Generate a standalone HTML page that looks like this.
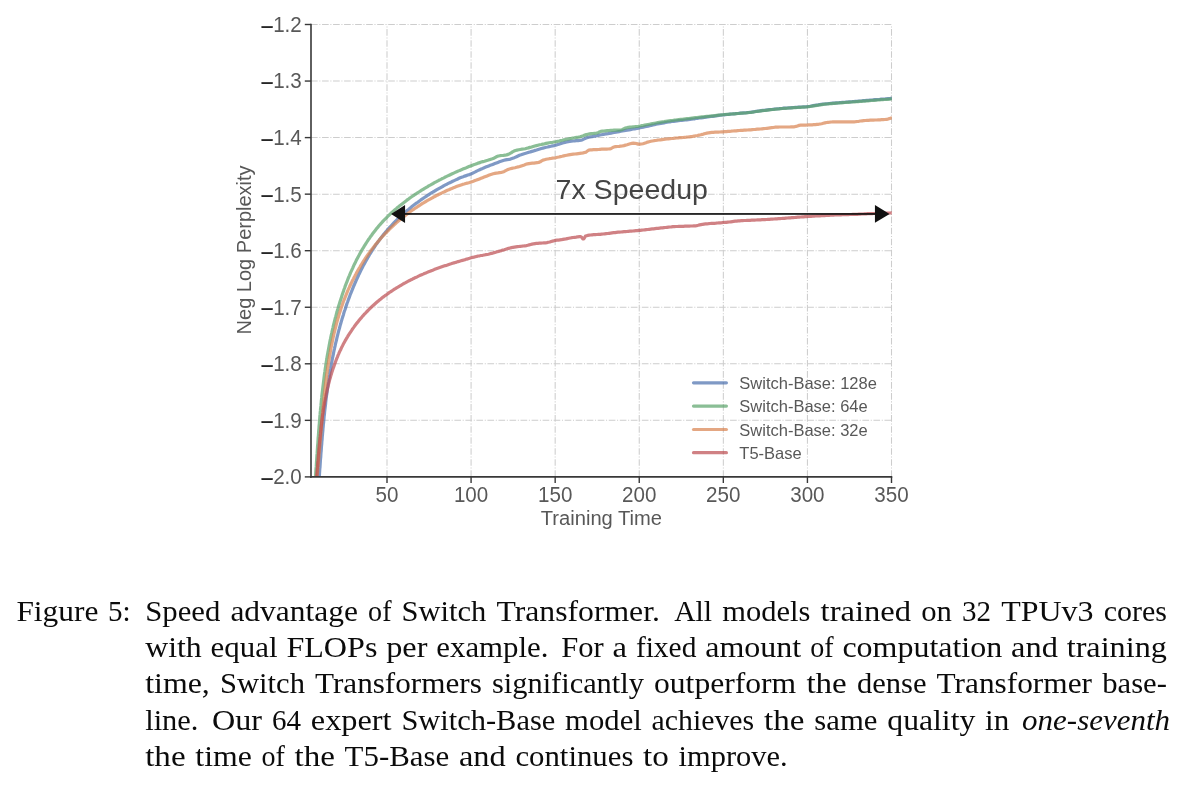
<!DOCTYPE html>
<html lang="en"><head><meta charset="utf-8"><title>Figure 5: Speed advantage of Switch Transformer</title>
<style>html,body{margin:0;padding:0;background:#fff}svg{display:block}text{font-family:"Liberation Sans",sans-serif}.cap text{font-family:"Liberation Serif",serif;font-size:29px;fill:#0b0b0b}.cap .it{font-style:italic}</style></head><body>
<svg width="1184" height="786" viewBox="0 0 1184 786">
<rect width="1184" height="786" fill="#fff"/>
<defs><clipPath id="ax"><rect x="311.0" y="24.5" width="580.8" height="452.4"/></clipPath></defs>
<g stroke="#cdcdcd" stroke-width="1.04" stroke-dasharray="6.658 1.665 1.04 1.665" fill="none"><line x1="311.0" y1="24.50" x2="891.5" y2="24.50"/><line x1="311.0" y1="81.05" x2="891.5" y2="81.05"/><line x1="311.0" y1="137.60" x2="891.5" y2="137.60"/><line x1="311.0" y1="194.15" x2="891.5" y2="194.15"/><line x1="311.0" y1="250.70" x2="891.5" y2="250.70"/><line x1="311.0" y1="307.25" x2="891.5" y2="307.25"/><line x1="311.0" y1="363.80" x2="891.5" y2="363.80"/><line x1="311.0" y1="420.35" x2="891.5" y2="420.35"/><line x1="387.00" y1="476.9" x2="387.00" y2="24.5"/><line x1="471.08" y1="476.9" x2="471.08" y2="24.5"/><line x1="555.17" y1="476.9" x2="555.17" y2="24.5"/><line x1="639.25" y1="476.9" x2="639.25" y2="24.5"/><line x1="723.33" y1="476.9" x2="723.33" y2="24.5"/><line x1="807.42" y1="476.9" x2="807.42" y2="24.5"/><line x1="891.50" y1="476.9" x2="891.50" y2="24.5"/></g>
<g clip-path="url(#ax)" fill="none" stroke-width="3.2" stroke-linejoin="round" stroke-opacity="0.7">
<polyline stroke="#496DAD" points="318.0,494.9 318.1,493.3 318.2,491.7 318.3,490.0 318.5,488.4 318.6,486.8 318.7,485.1 318.8,483.5 318.9,481.9 319.0,480.3 319.2,478.6 319.3,477.0 319.4,475.4 319.5,473.7 319.6,472.1 319.7,470.5 319.8,468.9 320.0,467.2 320.1,465.6 320.2,464.0 320.3,462.4 320.4,460.7 320.5,459.1 320.7,457.5 320.8,455.8 320.9,454.2 321.0,452.6 321.2,451.0 321.3,449.3 321.4,447.7 321.5,446.1 321.7,444.5 321.8,442.8 321.9,441.2 322.1,439.6 322.2,438.0 322.3,436.3 322.5,434.7 322.6,433.1 322.8,431.4 322.9,429.8 323.0,428.2 323.2,426.6 323.3,424.9 323.5,423.3 323.7,421.7 323.8,420.1 324.0,418.5 324.1,416.8 324.3,415.2 324.5,413.6 324.6,412.0 324.8,410.3 325.0,408.7 325.2,407.1 325.4,405.5 325.6,403.9 325.7,402.2 325.9,400.6 326.1,399.0 326.3,397.4 326.5,395.8 326.8,394.1 327.0,392.5 327.2,390.9 327.4,389.3 327.6,387.7 327.9,386.0 328.1,384.4 328.3,382.8 328.6,381.2 328.8,379.6 329.1,378.0 329.3,376.4 329.6,374.8 329.8,373.1 330.1,371.5 330.4,369.9 330.7,368.3 330.9,366.7 331.2,365.1 331.5,363.5 331.8,361.9 332.1,360.3 332.4,358.7 332.7,357.1 333.1,355.5 333.4,353.9 333.7,352.3 334.0,350.7 334.4,349.1 334.7,347.5 335.1,345.9 335.4,344.3 335.8,342.7 336.2,341.1 336.6,339.5 336.9,338.0 337.3,336.4 337.7,334.8 338.1,333.2 338.5,331.6 338.9,330.1 339.4,328.5 339.8,326.9 340.2,325.3 340.7,323.8 341.1,322.2 341.6,320.6 342.0,319.1 342.5,317.5 343.0,315.9 343.5,314.4 343.9,312.8 344.4,311.3 345.0,309.7 345.5,308.2 346.0,306.6 346.5,305.1 347.0,303.5 347.6,302.0 348.1,300.5 348.7,298.9 349.3,297.4 349.8,295.9 350.4,294.3 351.0,292.8 351.6,291.3 352.2,289.8 352.8,288.3 353.4,286.8 354.1,285.3 354.7,283.8 355.4,282.3 356.0,280.8 356.7,279.3 357.4,277.8 358.1,276.3 358.7,274.8 359.5,273.4 360.2,271.9 360.9,270.4 361.6,269.0 362.4,267.5 363.1,266.1 363.9,264.6 364.7,263.2 365.5,261.8 366.3,260.3 367.1,258.9 367.9,257.5 368.7,256.1 369.5,254.7 370.4,253.3 371.3,251.9 372.1,250.6 373.0,249.2 373.9,247.8 374.8,246.5 375.7,245.1 376.7,243.8 377.6,242.4 378.6,241.1 379.5,239.8 380.5,238.5 381.5,237.2 382.5,235.9 383.5,234.6 384.6,233.4 385.6,232.1 386.6,230.9 387.7,229.6 388.8,228.4 389.9,227.2 391.0,226.0 392.1,224.8 393.2,223.6 394.3,222.4 395.5,221.3 396.6,220.1 397.8,219.0 399.0,217.8 400.2,216.7 401.4,215.6 402.6,214.5 403.8,213.4 405.0,212.4 406.3,211.3 407.5,210.2 408.8,209.2 410.0,208.2 411.3,207.1 412.6,206.1 413.9,205.1 415.2,204.1 416.5,203.1 417.8,202.2 419.1,201.2 420.4,200.3 421.7,199.3 423.1,198.4 424.4,197.5 425.8,196.6 427.2,195.7 428.5,194.8 429.9,193.9 431.3,193.0 432.7,192.2 434.1,191.3 435.5,190.5 436.9,189.7 438.3,188.9 439.7,188.1 441.1,187.3 442.6,186.5 444.0,185.7 445.4,184.9 446.9,184.2 448.3,183.4 449.8,182.7 451.3,182.0 452.7,181.3 454.2,180.6 455.7,179.9 457.2,179.2 458.6,178.5 460.1,177.8 461.6,177.2 463.2,176.7 464.7,176.1 466.3,175.6 467.8,175.1 469.4,174.6 470.9,174.0 472.4,173.3 473.8,172.6 475.3,171.9 476.7,171.1 478.2,170.4 479.7,169.7 481.2,169.0 482.7,168.4 484.2,167.7 485.7,167.1 487.2,166.5 488.7,165.9 490.2,165.3 491.8,164.8 493.3,164.2 494.8,163.6 496.4,163.0 497.9,162.4 499.4,161.8 501.0,161.3 502.5,160.8 504.1,160.3 505.6,159.9 507.2,159.6 508.9,159.4 510.5,159.1 512.0,158.6 513.5,158.1 515.0,157.4 516.5,156.7 518.0,156.0 519.5,155.3 521.0,154.8 522.6,154.2 524.1,153.7 525.7,153.3 527.3,152.8 528.8,152.3 530.4,151.9 532.0,151.4 533.5,150.9 535.1,150.4 536.6,150.0 538.2,149.5 539.8,149.0 541.3,148.5 542.9,148.1 544.5,147.7 546.1,147.3 547.6,147.0 549.2,146.6 550.8,146.3 552.4,145.9 554.0,145.6 555.6,145.2 557.2,144.7 558.8,144.3 560.3,143.8 561.9,143.3 563.5,142.8 565.0,142.4 566.6,142.0 568.2,141.6 569.8,141.4 571.4,141.2 573.1,141.0 574.7,140.9 576.3,140.7 578.0,140.6 579.6,140.4 581.2,140.1 582.7,139.7 584.2,138.9 585.6,138.2 587.2,137.6 588.7,137.2 590.3,136.9 591.9,136.7 593.6,136.4 595.2,136.1 596.8,135.8 598.4,135.4 599.9,135.0 601.5,134.7 603.1,134.4 604.8,134.1 606.4,133.8 608.0,133.6 609.6,133.3 611.2,133.1 612.8,132.8 614.4,132.5 616.0,132.2 617.6,131.9 619.2,131.6 620.8,131.3 622.4,131.0 624.0,130.7 625.7,130.4 627.3,130.2 628.9,129.9 630.5,129.6 632.1,129.3 633.7,129.0 635.3,128.8 636.9,128.5 638.5,128.2 640.1,127.8 641.7,127.5 643.3,127.2 644.9,126.8 646.5,126.4 648.1,126.1 649.7,125.7 651.3,125.4 652.9,125.0 654.5,124.7 656.0,124.3 657.6,124.0 659.2,123.7 660.8,123.4 662.4,123.1 664.1,122.8 665.7,122.5 667.3,122.2 668.9,122.0 670.5,121.8 672.1,121.5 673.7,121.3 675.4,121.1 677.0,120.9 678.6,120.7 680.2,120.5 681.8,120.3 683.5,120.2 685.1,120.0 686.7,119.8 688.3,119.6 689.9,119.4 691.6,119.2 693.2,119.0 694.8,118.8 696.4,118.5 698.0,118.3 699.6,118.0 701.3,117.8 702.9,117.6 704.5,117.4 706.1,117.2 707.7,116.9 709.3,116.7 711.0,116.5 712.6,116.3 714.2,116.1 715.8,115.9 717.4,115.6 719.0,115.4 720.7,115.2 722.3,115.0 723.9,114.8 725.5,114.6 727.1,114.5 728.8,114.3 730.4,114.1 732.0,114.0 733.6,113.8 735.3,113.7 736.9,113.5 738.5,113.4 740.1,113.2 741.8,113.1 743.4,112.9 745.0,112.8 746.6,112.7 748.3,112.5 749.9,112.3 751.5,112.1 753.1,111.8 754.7,111.6 756.3,111.3 758.0,111.1 759.6,110.9 761.2,110.6 762.8,110.4 764.4,110.3 766.0,110.1 767.7,109.9 769.3,109.7 770.9,109.5 772.5,109.4 774.2,109.2 775.8,109.0 777.4,108.8 779.0,108.7 780.7,108.5 782.3,108.4 783.9,108.2 785.5,108.1 787.2,108.0 788.8,107.9 790.4,107.8 792.0,107.6 793.7,107.5 795.3,107.4 796.9,107.3 798.6,107.2 800.2,107.1 801.8,107.0 803.4,106.9 805.1,106.8 806.7,106.7 808.3,106.5 809.9,106.3 811.5,106.0 813.2,105.7 814.8,105.4 816.4,105.1 818.0,104.9 819.6,104.6 821.2,104.4 822.8,104.2 824.4,104.0 826.1,103.8 827.7,103.7 829.3,103.5 830.9,103.3 832.6,103.2 834.2,103.1 835.8,102.9 837.4,102.8 839.1,102.7 840.7,102.5 842.3,102.4 844.0,102.3 845.6,102.2 847.2,102.0 848.8,101.9 850.5,101.8 852.1,101.7 853.7,101.5 855.3,101.4 857.0,101.3 858.6,101.1 860.2,101.0 861.8,100.9 863.5,100.7 865.1,100.6 866.7,100.4 868.3,100.3 870.0,100.1 871.6,100.0 873.2,99.9 874.9,99.7 876.5,99.6 878.1,99.5 879.7,99.4 881.4,99.2 883.0,99.1 884.6,99.0 886.2,98.8 887.9,98.7 889.5,98.6 891.1,98.4 892.7,98.3 894.4,98.2 896.0,98.1"/>
<polyline stroke="#58A368" points="314.1,494.9 314.2,493.3 314.4,491.6 314.5,490.0 314.6,488.3 314.7,486.7 314.9,485.0 315.0,483.4 315.1,481.7 315.2,480.1 315.3,478.4 315.5,476.8 315.6,475.1 315.7,473.5 315.8,471.8 315.9,470.2 316.0,468.6 316.2,466.9 316.3,465.3 316.4,463.6 316.5,462.0 316.6,460.3 316.7,458.7 316.8,457.0 316.9,455.4 317.1,453.7 317.2,452.1 317.3,450.4 317.4,448.8 317.5,447.1 317.6,445.5 317.8,443.8 317.9,442.2 318.0,440.5 318.1,438.9 318.2,437.2 318.4,435.6 318.5,433.9 318.6,432.3 318.7,430.6 318.9,429.0 319.0,427.3 319.1,425.7 319.3,424.0 319.4,422.4 319.5,420.8 319.7,419.1 319.8,417.5 319.9,415.8 320.1,414.2 320.2,412.5 320.4,410.9 320.5,409.2 320.7,407.6 320.9,405.9 321.0,404.3 321.2,402.6 321.3,401.0 321.5,399.4 321.7,397.7 321.8,396.1 322.0,394.4 322.2,392.8 322.4,391.1 322.6,389.5 322.8,387.9 323.0,386.2 323.2,384.6 323.4,382.9 323.6,381.3 323.8,379.7 324.0,378.0 324.2,376.4 324.4,374.7 324.6,373.1 324.9,371.5 325.1,369.8 325.3,368.2 325.6,366.6 325.8,364.9 326.1,363.3 326.3,361.7 326.6,360.0 326.9,358.4 327.1,356.8 327.4,355.1 327.7,353.5 328.0,351.9 328.3,350.3 328.6,348.6 328.9,347.0 329.2,345.4 329.5,343.8 329.8,342.1 330.1,340.5 330.5,338.9 330.8,337.3 331.1,335.7 331.5,334.0 331.9,332.4 332.2,330.8 332.6,329.2 333.0,327.6 333.3,326.0 333.7,324.4 334.1,322.8 334.5,321.2 334.9,319.6 335.3,318.0 335.8,316.4 336.2,314.8 336.6,313.2 337.1,311.6 337.5,310.0 338.0,308.4 338.4,306.8 338.9,305.2 339.4,303.7 339.9,302.1 340.4,300.5 340.9,298.9 341.4,297.4 341.9,295.8 342.4,294.2 342.9,292.7 343.5,291.1 344.0,289.5 344.6,288.0 345.1,286.4 345.7,284.9 346.3,283.3 346.9,281.8 347.5,280.2 348.1,278.7 348.7,277.2 349.4,275.6 350.0,274.1 350.6,272.6 351.3,271.1 352.0,269.6 352.7,268.1 353.3,266.6 354.0,265.1 354.8,263.6 355.5,262.1 356.2,260.6 357.0,259.1 357.7,257.7 358.5,256.2 359.3,254.8 360.1,253.3 360.9,251.9 361.7,250.4 362.5,249.0 363.4,247.6 364.2,246.2 365.1,244.8 366.0,243.4 366.9,242.0 367.8,240.6 368.7,239.2 369.7,237.9 370.6,236.5 371.6,235.2 372.6,233.8 373.6,232.5 374.6,231.2 375.6,229.9 376.6,228.6 377.7,227.4 378.7,226.1 379.8,224.8 380.9,223.6 382.0,222.4 383.1,221.1 384.3,219.9 385.4,218.8 386.6,217.6 387.7,216.4 388.9,215.3 390.1,214.1 391.3,213.0 392.5,211.9 393.8,210.8 395.0,209.7 396.3,208.6 397.5,207.5 398.8,206.5 400.1,205.4 401.4,204.4 402.7,203.4 404.0,202.4 405.3,201.4 406.6,200.4 408.0,199.4 409.3,198.4 410.6,197.5 412.0,196.5 413.4,195.6 414.7,194.7 416.1,193.8 417.5,192.9 418.9,192.0 420.3,191.1 421.7,190.2 423.1,189.3 424.5,188.5 425.9,187.6 427.3,186.8 428.7,185.9 430.2,185.1 431.6,184.3 433.1,183.5 434.5,182.7 436.0,181.9 437.4,181.1 438.9,180.3 440.3,179.6 441.8,178.8 443.3,178.1 444.8,177.3 446.2,176.6 447.7,175.9 449.2,175.2 450.7,174.5 452.2,173.8 453.7,173.1 455.2,172.4 456.7,171.7 458.2,171.1 459.8,170.4 461.3,169.8 462.8,169.1 464.3,168.5 465.9,167.9 467.4,167.2 468.9,166.6 470.5,166.0 472.0,165.4 473.6,164.8 475.1,164.3 476.7,163.7 478.2,163.1 479.8,162.6 481.3,162.1 482.9,161.6 484.5,161.2 486.1,160.7 487.7,160.3 489.3,159.8 490.9,159.3 492.4,158.8 494.0,158.2 495.4,157.3 496.9,156.5 498.4,156.0 500.0,155.7 501.7,155.5 503.4,155.4 505.0,155.2 506.6,154.9 508.2,154.4 509.6,153.7 511.1,152.9 512.5,151.9 514.0,151.1 515.5,150.5 517.1,150.1 518.7,149.8 520.3,149.5 522.0,149.2 523.6,149.0 525.2,148.7 526.8,148.3 528.4,147.9 530.0,147.4 531.6,147.0 533.2,146.5 534.8,146.0 536.4,145.6 538.0,145.2 539.6,144.8 541.2,144.5 542.8,144.1 544.5,143.8 546.1,143.4 547.7,143.1 549.3,142.8 550.9,142.5 552.6,142.3 554.2,142.0 555.8,141.7 557.4,141.3 559.1,141.0 560.7,140.6 562.3,140.3 563.9,139.9 565.5,139.5 567.1,139.2 568.7,138.9 570.4,138.5 572.0,138.2 573.6,138.0 575.3,137.7 576.9,137.4 578.5,137.1 580.1,136.7 581.7,136.2 583.3,135.7 584.8,135.1 586.4,134.6 588.0,134.2 589.6,133.8 591.3,133.6 592.9,133.5 594.6,133.3 596.3,133.1 597.8,132.8 599.3,132.0 600.7,131.4 602.3,131.2 603.9,131.0 605.6,130.8 607.2,130.6 608.9,130.5 610.6,130.4 612.3,130.3 614.0,130.2 615.6,130.2 617.3,130.1 619.0,130.1 620.6,130.0 622.1,129.7 623.6,128.9 625.1,128.1 626.6,127.7 628.2,127.4 629.9,127.2 631.5,127.0 633.2,126.8 634.8,126.7 636.5,126.5 638.2,126.3 639.8,126.0 641.4,125.7 643.1,125.5 644.7,125.1 646.3,124.8 647.9,124.5 649.5,124.2 651.2,123.9 652.8,123.6 654.4,123.3 656.0,123.0 657.7,122.7 659.3,122.4 660.9,122.1 662.6,121.8 664.2,121.6 665.8,121.3 667.5,121.1 669.1,120.9 670.7,120.7 672.4,120.5 674.0,120.2 675.7,120.0 677.3,119.8 678.9,119.6 680.6,119.4 682.2,119.3 683.9,119.1 685.5,118.9 687.1,118.7 688.8,118.5 690.4,118.3 692.1,118.1 693.7,117.9 695.3,117.7 697.0,117.5 698.6,117.3 700.3,117.1 701.9,116.9 703.6,116.8 705.2,116.6 706.8,116.4 708.5,116.3 710.1,116.1 711.8,115.9 713.4,115.8 715.1,115.6 716.7,115.4 718.3,115.2 720.0,115.0 721.6,114.8 723.3,114.7 724.9,114.5 726.6,114.4 728.2,114.3 729.9,114.1 731.5,114.0 733.2,113.9 734.8,113.8 736.5,113.6 738.1,113.5 739.8,113.4 741.4,113.2 743.1,113.1 744.7,113.0 746.3,112.9 748.0,112.7 749.6,112.5 751.3,112.3 752.9,112.1 754.5,111.8 756.2,111.5 757.8,111.3 759.4,111.1 761.1,110.9 762.7,110.7 764.4,110.5 766.0,110.3 767.6,110.1 769.3,109.9 770.9,109.7 772.6,109.5 774.2,109.4 775.9,109.2 777.5,109.0 779.1,108.9 780.8,108.7 782.4,108.5 784.1,108.4 785.7,108.3 787.4,108.2 789.0,108.0 790.7,107.9 792.3,107.8 794.0,107.7 795.6,107.6 797.3,107.5 798.9,107.4 800.6,107.3 802.2,107.2 803.9,107.1 805.5,107.0 807.2,106.9 808.8,106.7 810.4,106.5 812.1,106.2 813.7,105.9 815.3,105.6 817.0,105.3 818.6,105.1 820.2,104.8 821.9,104.6 823.5,104.4 825.1,104.2 826.8,104.0 828.4,103.9 830.1,103.7 831.7,103.6 833.4,103.4 835.0,103.3 836.7,103.1 838.3,103.0 840.0,102.9 841.6,102.8 843.3,102.6 844.9,102.5 846.6,102.4 848.2,102.3 849.9,102.1 851.5,102.0 853.2,101.9 854.8,101.8 856.4,101.7 858.1,101.6 859.7,101.4 861.4,101.3 863.0,101.2 864.7,101.1 866.3,100.9 868.0,100.8 869.6,100.7 871.3,100.5 872.9,100.4 874.6,100.3 876.2,100.1 877.9,100.0 879.5,99.9 881.2,99.7 882.8,99.6 884.5,99.5 886.1,99.4 887.8,99.3 889.4,99.1 891.1,99.0 892.7,98.9 894.4,98.8 896.0,98.7"/>
<polyline stroke="#D8824F" points="315.0,494.9 315.2,493.2 315.4,491.6 315.6,490.0 315.8,488.4 316.0,486.8 316.1,485.2 316.3,483.6 316.5,481.9 316.7,480.3 316.8,478.7 317.0,477.1 317.1,475.5 317.3,473.9 317.5,472.2 317.6,470.6 317.8,469.0 317.9,467.4 318.1,465.8 318.2,464.2 318.4,462.5 318.5,460.9 318.7,459.3 318.8,457.7 319.0,456.1 319.1,454.4 319.2,452.8 319.4,451.2 319.5,449.6 319.6,448.0 319.8,446.4 319.9,444.7 320.1,443.1 320.2,441.5 320.3,439.9 320.5,438.3 320.6,436.6 320.7,435.0 320.9,433.4 321.0,431.8 321.1,430.2 321.3,428.6 321.4,426.9 321.5,425.3 321.7,423.7 321.8,422.1 322.0,420.5 322.1,418.8 322.3,417.2 322.4,415.6 322.5,414.0 322.7,412.4 322.8,410.8 323.0,409.1 323.1,407.5 323.3,405.9 323.5,404.3 323.6,402.7 323.8,401.1 323.9,399.4 324.1,397.8 324.3,396.2 324.4,394.6 324.6,393.0 324.8,391.4 325.0,389.7 325.2,388.1 325.3,386.5 325.5,384.9 325.7,383.3 325.9,381.7 326.1,380.1 326.3,378.5 326.5,376.8 326.7,375.2 326.9,373.6 327.2,372.0 327.4,370.4 327.6,368.8 327.8,367.2 328.1,365.6 328.3,364.0 328.6,362.4 328.8,360.8 329.1,359.2 329.3,357.6 329.6,356.0 329.9,354.4 330.2,352.7 330.4,351.2 330.7,349.6 331.0,348.0 331.3,346.4 331.6,344.8 332.0,343.2 332.3,341.6 332.6,340.0 333.0,338.4 333.3,336.8 333.7,335.2 334.0,333.6 334.4,332.1 334.8,330.5 335.2,328.9 335.6,327.3 336.0,325.8 336.4,324.2 336.8,322.6 337.2,321.1 337.7,319.5 338.1,317.9 338.6,316.4 339.0,314.8 339.5,313.3 340.0,311.7 340.5,310.2 341.0,308.6 341.5,307.1 342.1,305.5 342.6,304.0 343.1,302.5 343.7,301.0 344.3,299.4 344.9,297.9 345.5,296.4 346.1,294.9 346.7,293.4 347.3,291.9 347.9,290.4 348.6,288.9 349.3,287.4 349.9,286.0 350.6,284.5 351.3,283.0 352.0,281.6 352.8,280.1 353.5,278.7 354.2,277.2 355.0,275.8 355.8,274.3 356.5,272.9 357.3,271.5 358.1,270.1 358.9,268.7 359.8,267.3 360.6,265.9 361.4,264.5 362.3,263.1 363.2,261.7 364.0,260.4 364.9,259.0 365.8,257.7 366.8,256.3 367.7,255.0 368.6,253.7 369.6,252.4 370.5,251.0 371.5,249.7 372.5,248.5 373.5,247.2 374.5,245.9 375.5,244.6 376.5,243.4 377.6,242.1 378.6,240.9 379.7,239.6 380.7,238.4 381.8,237.2 382.9,236.0 384.0,234.8 385.1,233.6 386.3,232.5 387.4,231.3 388.6,230.2 389.7,229.0 390.9,227.9 392.1,226.8 393.2,225.7 394.4,224.6 395.6,223.5 396.9,222.4 398.1,221.3 399.3,220.3 400.6,219.2 401.8,218.2 403.1,217.2 404.4,216.2 405.6,215.2 406.9,214.2 408.2,213.2 409.5,212.2 410.8,211.3 412.2,210.3 413.5,209.4 414.8,208.5 416.2,207.6 417.5,206.7 418.9,205.8 420.3,204.9 421.6,204.0 423.0,203.2 424.4,202.3 425.8,201.5 427.2,200.7 428.6,199.9 430.0,199.1 431.4,198.3 432.9,197.5 434.3,196.7 435.7,196.0 437.2,195.2 438.6,194.5 440.1,193.8 441.5,193.1 443.0,192.4 444.5,191.7 445.9,191.0 447.4,190.3 448.9,189.7 450.4,189.0 451.9,188.4 453.4,187.8 454.9,187.2 456.4,186.6 457.9,186.0 459.5,185.4 461.0,184.9 462.5,184.4 464.1,184.0 465.7,183.5 467.2,183.1 468.8,182.7 470.4,182.2 471.9,181.7 473.4,181.2 475.0,180.6 476.5,180.1 478.0,179.5 479.5,178.9 481.0,178.3 482.6,177.7 484.1,177.1 485.6,176.5 487.1,175.9 488.6,175.3 490.1,174.7 491.7,174.2 493.2,173.7 494.8,173.4 496.4,173.1 498.0,172.9 499.7,172.6 501.2,172.4 502.8,172.0 504.3,171.4 505.7,170.6 507.2,169.8 508.7,169.2 510.2,168.8 511.8,168.4 513.4,168.0 515.0,167.7 516.6,167.3 518.2,166.9 519.7,166.5 521.3,165.9 522.8,165.4 524.3,164.9 525.9,164.3 527.4,163.9 529.0,163.6 530.6,163.4 532.3,163.2 533.9,163.1 535.5,162.9 537.1,162.7 538.7,162.4 540.2,161.8 541.6,160.9 543.0,160.1 544.6,159.7 546.1,159.3 547.7,159.0 549.3,158.7 550.9,158.5 552.6,158.2 554.2,158.0 555.8,157.7 557.4,157.3 558.9,157.0 560.5,156.6 562.1,156.3 563.7,155.9 565.3,155.5 566.9,155.2 568.5,154.9 570.1,154.6 571.7,154.4 573.3,154.2 575.0,154.0 576.6,153.8 578.3,153.6 579.9,153.4 581.5,153.2 583.1,152.9 584.6,152.5 586.1,152.1 587.4,151.0 588.8,150.1 590.3,149.9 591.9,149.8 593.5,149.7 595.2,149.7 596.8,149.6 598.5,149.5 600.1,149.3 601.7,149.2 603.4,149.2 605.0,149.1 606.7,149.1 608.3,149.0 609.8,148.9 611.3,148.4 612.8,147.5 614.2,146.9 615.8,146.7 617.4,146.5 619.1,146.4 620.7,146.2 622.3,146.0 623.9,145.6 625.5,145.1 627.1,144.7 628.6,144.2 630.2,143.7 631.8,143.4 633.4,143.2 635.0,143.3 636.6,143.6 638.2,144.1 639.8,144.2 641.3,144.0 642.9,143.7 644.5,143.2 646.0,142.7 647.6,142.1 649.2,141.7 650.8,141.3 652.4,141.0 654.0,140.7 655.6,140.5 657.2,140.2 658.8,140.0 660.4,139.8 662.0,139.6 663.6,139.4 665.2,139.2 666.9,139.0 668.5,138.8 670.1,138.7 671.7,138.5 673.3,138.4 674.9,138.2 676.6,138.0 678.2,137.9 679.8,137.7 681.4,137.6 683.0,137.5 684.7,137.3 686.3,137.2 687.9,137.0 689.5,136.8 691.1,136.6 692.7,136.4 694.3,136.1 695.9,135.8 697.5,135.5 699.1,135.1 700.7,134.8 702.3,134.4 703.8,133.9 705.4,133.5 707.0,133.1 708.6,132.8 710.2,132.6 711.8,132.4 713.4,132.3 715.0,132.2 716.6,132.2 718.3,132.1 719.9,132.0 721.5,131.9 723.1,131.8 724.8,131.7 726.4,131.6 728.0,131.4 729.6,131.3 731.2,131.2 732.9,131.0 734.5,130.9 736.1,130.8 737.7,130.6 739.3,130.5 740.9,130.4 742.6,130.3 744.2,130.2 745.8,130.1 747.4,130.0 749.1,129.9 750.7,129.8 752.3,129.6 753.9,129.5 755.5,129.4 757.2,129.2 758.8,129.1 760.4,129.0 762.0,128.8 763.6,128.6 765.2,128.5 766.9,128.3 768.5,128.1 770.1,127.9 771.7,127.7 773.3,127.5 774.9,127.2 776.5,127.1 778.1,127.1 779.8,127.0 781.4,127.0 783.0,127.0 784.7,127.0 786.3,127.0 787.9,127.0 789.5,127.0 791.2,126.9 792.8,126.9 794.4,126.8 796.0,126.4 797.5,125.9 799.1,125.4 800.7,125.2 802.3,125.1 803.9,125.1 805.6,125.1 807.2,125.0 808.8,124.9 810.4,124.9 812.1,124.8 813.7,124.7 815.3,124.6 816.9,124.4 818.5,124.3 820.1,124.0 821.7,123.7 823.3,123.3 824.9,122.9 826.5,122.5 828.1,122.3 829.7,122.2 831.3,122.0 832.9,121.9 834.6,121.8 836.2,121.8 837.8,121.8 839.4,121.8 841.1,121.8 842.7,121.8 844.3,121.8 845.9,121.8 847.6,121.8 849.2,121.8 850.8,121.8 852.4,121.8 854.1,121.8 855.7,121.7 857.3,121.5 858.9,121.3 860.5,121.0 862.1,120.8 863.7,120.6 865.4,120.5 867.0,120.4 868.6,120.3 870.2,120.2 871.9,120.2 873.5,120.1 875.1,120.0 876.7,120.0 878.3,119.9 880.0,119.8 881.6,119.7 883.2,119.6 884.9,119.5 886.5,119.3 888.0,119.1 889.6,118.5 891.2,118.1 892.8,117.8 894.4,117.7 896.0,117.6"/>
<polyline stroke="#BC4B50" points="315.0,494.6 315.2,493.1 315.3,491.6 315.5,490.1 315.6,488.7 315.8,487.2 315.9,485.7 316.0,484.2 316.2,482.7 316.3,481.2 316.4,479.7 316.5,478.3 316.7,476.8 316.8,475.3 316.9,473.8 317.0,472.3 317.1,470.8 317.2,469.3 317.4,467.9 317.5,466.4 317.6,464.9 317.7,463.4 317.8,461.9 318.0,460.4 318.1,458.9 318.2,457.5 318.3,456.0 318.4,454.5 318.6,453.0 318.7,451.5 318.8,450.0 318.9,448.5 319.1,447.1 319.2,445.6 319.3,444.1 319.5,442.6 319.6,441.1 319.8,439.6 319.9,438.1 320.1,436.7 320.2,435.2 320.4,433.7 320.5,432.2 320.7,430.7 320.9,429.2 321.0,427.8 321.2,426.3 321.4,424.8 321.6,423.3 321.7,421.8 321.9,420.4 322.1,418.9 322.3,417.4 322.5,415.9 322.7,414.5 323.0,413.0 323.2,411.5 323.4,410.0 323.6,408.6 323.9,407.1 324.1,405.6 324.4,404.2 324.6,402.7 324.9,401.2 325.2,399.8 325.5,398.3 325.8,396.8 326.0,395.4 326.3,393.9 326.7,392.4 327.0,391.0 327.3,389.5 327.6,388.1 328.0,386.6 328.3,385.2 328.7,383.7 329.1,382.3 329.4,380.8 329.8,379.4 330.2,378.0 330.6,376.5 331.0,375.1 331.5,373.7 331.9,372.2 332.4,370.8 332.8,369.4 333.3,368.0 333.8,366.6 334.3,365.2 334.8,363.8 335.3,362.4 335.8,361.0 336.3,359.6 336.9,358.2 337.5,356.8 338.0,355.4 338.6,354.1 339.2,352.7 339.8,351.3 340.5,350.0 341.1,348.6 341.7,347.3 342.4,346.0 343.1,344.6 343.8,343.3 344.5,342.0 345.2,340.7 346.0,339.4 346.7,338.1 347.5,336.8 348.2,335.6 349.0,334.3 349.8,333.1 350.7,331.8 351.5,330.6 352.3,329.3 353.2,328.1 354.1,326.9 354.9,325.7 355.8,324.5 356.7,323.3 357.7,322.2 358.6,321.0 359.5,319.8 360.5,318.7 361.5,317.6 362.4,316.4 363.4,315.3 364.4,314.2 365.5,313.1 366.5,312.0 367.5,311.0 368.6,309.9 369.6,308.9 370.7,307.8 371.8,306.8 372.9,305.8 374.0,304.8 375.1,303.8 376.2,302.8 377.3,301.8 378.5,300.9 379.6,299.9 380.8,299.0 381.9,298.1 383.1,297.1 384.3,296.2 385.5,295.3 386.7,294.5 387.9,293.6 389.1,292.7 390.4,291.9 391.6,291.1 392.9,290.2 394.1,289.4 395.4,288.6 396.6,287.8 397.9,287.1 399.2,286.3 400.5,285.5 401.7,284.8 403.0,284.0 404.3,283.3 405.7,282.6 407.0,281.9 408.3,281.2 409.6,280.5 410.9,279.8 412.3,279.2 413.6,278.5 414.9,277.8 416.3,277.2 417.6,276.6 419.0,275.9 420.3,275.3 421.7,274.7 423.1,274.1 424.4,273.5 425.8,273.0 427.2,272.4 428.6,271.8 430.0,271.3 431.3,270.7 432.7,270.2 434.1,269.6 435.5,269.1 436.9,268.6 438.3,268.1 439.7,267.6 441.1,267.1 442.5,266.6 443.9,266.1 445.4,265.6 446.8,265.2 448.2,264.7 449.6,264.2 451.0,263.8 452.5,263.3 453.9,262.9 455.3,262.5 456.7,262.1 458.2,261.6 459.6,261.2 461.0,260.8 462.5,260.4 463.9,260.0 465.3,259.6 466.8,259.1 468.2,258.7 469.6,258.3 471.1,257.8 472.5,257.4 473.9,257.1 475.4,256.7 476.8,256.4 478.3,256.0 479.7,255.8 481.2,255.5 482.7,255.3 484.2,255.0 485.6,254.7 487.1,254.5 488.5,254.2 490.0,253.8 491.4,253.4 492.9,253.1 494.3,252.6 495.7,252.2 497.2,251.8 498.6,251.4 500.0,251.0 501.5,250.6 502.9,250.1 504.3,249.7 505.8,249.2 507.2,248.8 508.6,248.4 510.1,248.0 511.5,247.6 513.0,247.3 514.4,247.1 515.9,246.9 517.4,246.7 518.9,246.5 520.3,246.3 521.8,246.2 523.3,246.0 524.8,245.8 526.3,245.6 527.7,245.3 529.2,244.9 530.6,244.5 532.1,244.1 533.5,243.8 535.0,243.6 536.4,243.4 537.9,243.3 539.4,243.2 540.9,243.1 542.4,243.0 543.9,242.9 545.4,242.8 546.9,242.6 548.3,242.3 549.8,242.0 551.2,241.5 552.6,241.1 554.1,240.7 555.5,240.4 557.0,240.2 558.5,240.1 560.0,239.9 561.5,239.7 562.9,239.4 564.4,239.1 565.9,238.9 567.3,238.6 568.8,238.3 570.2,238.0 571.7,237.7 573.2,237.5 574.7,237.3 576.2,237.1 577.8,236.8 579.3,236.7 580.6,236.6 581.8,237.3 582.8,238.8 583.8,238.9 584.7,237.5 585.5,236.0 586.6,235.7 587.9,235.4 589.2,235.2 590.6,235.0 592.1,234.8 593.7,234.7 595.3,234.6 596.9,234.5 598.5,234.4 600.1,234.3 601.7,234.1 603.2,234.0 604.7,233.8 606.2,233.6 607.7,233.5 609.1,233.3 610.6,233.1 612.1,232.9 613.6,232.7 615.1,232.6 616.5,232.4 618.0,232.2 619.5,232.1 621.0,232.0 622.5,231.8 624.0,231.7 625.5,231.6 626.9,231.5 628.4,231.3 629.9,231.2 631.4,231.1 632.9,231.0 634.4,230.8 635.9,230.7 637.3,230.6 638.8,230.4 640.3,230.3 641.8,230.1 643.3,230.0 644.8,229.8 646.2,229.6 647.7,229.5 649.2,229.3 650.7,229.1 652.2,228.9 653.6,228.8 655.1,228.6 656.6,228.4 658.1,228.3 659.6,228.1 661.0,227.9 662.5,227.8 664.0,227.6 665.5,227.5 667.0,227.3 668.5,227.1 669.9,227.0 671.4,226.9 672.9,226.7 674.4,226.6 675.9,226.5 677.4,226.5 678.9,226.4 680.4,226.4 681.9,226.3 683.4,226.3 684.9,226.2 686.3,226.2 687.8,226.2 689.3,226.1 690.8,226.0 692.3,226.0 693.8,225.9 695.3,225.8 696.7,225.6 698.2,225.3 699.6,224.9 701.1,224.6 702.6,224.3 704.0,224.1 705.5,223.9 707.0,223.8 708.5,223.7 710.0,223.5 711.5,223.4 713.0,223.4 714.4,223.3 715.9,223.2 717.4,223.0 718.9,222.9 720.4,222.8 721.9,222.7 723.4,222.5 724.8,222.4 726.3,222.3 727.8,222.1 729.3,222.0 730.8,221.8 732.3,221.6 733.7,221.4 735.2,221.2 736.7,221.1 738.2,220.9 739.7,220.8 741.2,220.7 742.6,220.6 744.1,220.5 745.6,220.5 747.1,220.4 748.6,220.3 750.1,220.3 751.6,220.2 753.1,220.1 754.6,220.1 756.1,220.0 757.5,219.9 759.0,219.9 760.5,219.8 762.0,219.7 763.5,219.6 765.0,219.6 766.5,219.5 768.0,219.4 769.5,219.3 770.9,219.2 772.4,219.1 773.9,219.0 775.4,218.9 776.9,218.8 778.4,218.7 779.9,218.6 781.4,218.5 782.8,218.4 784.3,218.3 785.8,218.1 787.3,218.0 788.8,217.9 790.3,217.8 791.8,217.7 793.2,217.6 794.7,217.5 796.2,217.3 797.7,217.2 799.2,217.1 800.7,217.0 802.2,216.9 803.7,216.8 805.1,216.7 806.6,216.6 808.1,216.5 809.6,216.4 811.1,216.3 812.6,216.2 814.1,216.1 815.6,216.0 817.0,215.9 818.5,215.9 820.0,215.8 821.5,215.7 823.0,215.6 824.5,215.6 826.0,215.5 827.5,215.4 829.0,215.3 830.4,215.2 831.9,215.2 833.4,215.1 834.9,215.0 836.4,214.9 837.9,214.9 839.4,214.8 840.9,214.8 842.4,214.7 843.9,214.7 845.3,214.6 846.8,214.6 848.3,214.6 849.8,214.5 851.3,214.5 852.8,214.4 854.3,214.4 855.8,214.3 857.3,214.3 858.8,214.2 860.2,214.1 861.7,214.0 863.2,214.0 864.7,213.9 866.2,213.8 867.7,213.7 869.2,213.7 870.7,213.6 872.2,213.6 873.6,213.5 875.1,213.5 876.6,213.4 878.1,213.4 879.6,213.3 881.1,213.3 882.6,213.2 884.1,213.2 885.6,213.1 887.1,213.1 888.6,213.0 890.0,213.0 891.5,212.9 893.0,212.8 894.5,212.8 896.0,212.7"/>
</g>
<g fill="#111" stroke="none"><rect x="398" y="213.1" width="484" height="1.7"/><polygon points="391.1,213.95 405.05,205.0 405.05,222.9"/><polygon points="889.6,213.95 874.95,205.0 874.95,222.8"/></g>
<g stroke="#383838" fill="none"><line x1="311.0" y1="23.7" x2="311.0" y2="477.79999999999995" stroke-width="1.6"/><line x1="310.1" y1="476.9" x2="892.3" y2="476.9" stroke-width="1.6"/><line x1="304.8" y1="24.50" x2="311.0" y2="24.50" stroke-width="1.4"/><line x1="304.8" y1="81.05" x2="311.0" y2="81.05" stroke-width="1.4"/><line x1="304.8" y1="137.60" x2="311.0" y2="137.60" stroke-width="1.4"/><line x1="304.8" y1="194.15" x2="311.0" y2="194.15" stroke-width="1.4"/><line x1="304.8" y1="250.70" x2="311.0" y2="250.70" stroke-width="1.4"/><line x1="304.8" y1="307.25" x2="311.0" y2="307.25" stroke-width="1.4"/><line x1="304.8" y1="363.80" x2="311.0" y2="363.80" stroke-width="1.4"/><line x1="304.8" y1="420.35" x2="311.0" y2="420.35" stroke-width="1.4"/><line x1="304.8" y1="476.90" x2="311.0" y2="476.90" stroke-width="1.4"/><line x1="387.00" y1="476.9" x2="387.00" y2="483.0" stroke-width="1.4"/><line x1="471.08" y1="476.9" x2="471.08" y2="483.0" stroke-width="1.4"/><line x1="555.17" y1="476.9" x2="555.17" y2="483.0" stroke-width="1.4"/><line x1="639.25" y1="476.9" x2="639.25" y2="483.0" stroke-width="1.4"/><line x1="723.33" y1="476.9" x2="723.33" y2="483.0" stroke-width="1.4"/><line x1="807.42" y1="476.9" x2="807.42" y2="483.0" stroke-width="1.4"/><line x1="891.50" y1="476.9" x2="891.50" y2="483.0" stroke-width="1.4"/></g>
<g font-size="20.6" fill="#585858" transform="scale(1 1.07)"><text x="301.2" y="29.86" text-anchor="end"><tspan font-size="22.5" fill="#1c1c1c" stroke="#1c1c1c" stroke-width="0.25" dx="0.6" dy="2.5">−</tspan><tspan dx="-0.6" dy="-2.5">1.2</tspan></text><text x="301.2" y="82.71" text-anchor="end"><tspan font-size="22.5" fill="#1c1c1c" stroke="#1c1c1c" stroke-width="0.25" dx="0.6" dy="2.5">−</tspan><tspan dx="-0.6" dy="-2.5">1.3</tspan></text><text x="301.2" y="135.56" text-anchor="end"><tspan font-size="22.5" fill="#1c1c1c" stroke="#1c1c1c" stroke-width="0.25" dx="0.6" dy="2.5">−</tspan><tspan dx="-0.6" dy="-2.5">1.4</tspan></text><text x="301.2" y="188.41" text-anchor="end"><tspan font-size="22.5" fill="#1c1c1c" stroke="#1c1c1c" stroke-width="0.25" dx="0.6" dy="2.5">−</tspan><tspan dx="-0.6" dy="-2.5">1.5</tspan></text><text x="301.2" y="241.26" text-anchor="end"><tspan font-size="22.5" fill="#1c1c1c" stroke="#1c1c1c" stroke-width="0.25" dx="0.6" dy="2.5">−</tspan><tspan dx="-0.6" dy="-2.5">1.6</tspan></text><text x="301.2" y="294.11" text-anchor="end"><tspan font-size="22.5" fill="#1c1c1c" stroke="#1c1c1c" stroke-width="0.25" dx="0.6" dy="2.5">−</tspan><tspan dx="-0.6" dy="-2.5">1.7</tspan></text><text x="301.2" y="346.96" text-anchor="end"><tspan font-size="22.5" fill="#1c1c1c" stroke="#1c1c1c" stroke-width="0.25" dx="0.6" dy="2.5">−</tspan><tspan dx="-0.6" dy="-2.5">1.8</tspan></text><text x="301.2" y="399.81" text-anchor="end"><tspan font-size="22.5" fill="#1c1c1c" stroke="#1c1c1c" stroke-width="0.25" dx="0.6" dy="2.5">−</tspan><tspan dx="-0.6" dy="-2.5">1.9</tspan></text><text x="301.2" y="452.66" text-anchor="end"><tspan font-size="22.5" fill="#1c1c1c" stroke="#1c1c1c" stroke-width="0.25" dx="0.6" dy="2.5">−</tspan><tspan dx="-0.6" dy="-2.5">2.0</tspan></text><text x="387.0" y="469.11" text-anchor="middle">50</text><text x="471.1" y="469.11" text-anchor="middle">100</text><text x="555.2" y="469.11" text-anchor="middle">150</text><text x="639.2" y="469.11" text-anchor="middle">200</text><text x="723.3" y="469.11" text-anchor="middle">250</text><text x="807.4" y="469.11" text-anchor="middle">300</text><text x="891.5" y="469.11" text-anchor="middle">350</text></g>
<text x="601.4" y="524.8" text-anchor="middle" font-size="20.15" fill="#585858">Training Time</text>
<text transform="translate(250.7 249.9) rotate(-90)" text-anchor="middle" font-size="20" fill="#585858">Neg Log Perplexity</text>
<text x="555.5" y="199.05" font-size="27.6" fill="#444444" textLength="152.4" lengthAdjust="spacingAndGlyphs">7x Speedup</text>
<g stroke-width="3.2" stroke-linecap="round" stroke-opacity="0.7"><line x1="693.5" y1="382.8" x2="726.4" y2="382.8" stroke="#496DAD"/><line x1="693.5" y1="406.1" x2="726.4" y2="406.1" stroke="#58A368"/><line x1="693.5" y1="429.5" x2="726.4" y2="429.5" stroke="#D8824F"/><line x1="693.5" y1="452.7" x2="726.4" y2="452.7" stroke="#BC4B50"/></g>
<g font-size="16.5" fill="#585858"><text x="739.3" y="388.8">Switch-Base: 128e</text><text x="739.3" y="412.1">Switch-Base: 64e</text><text x="739.3" y="435.5">Switch-Base: 32e</text><text x="739.3" y="458.7">T5-Base</text></g>
<g class="cap">
<text x="16.4" y="620.7" textLength="82.0" lengthAdjust="spacingAndGlyphs">Figure</text>
<text x="108.1" y="620.7" textLength="22.6" lengthAdjust="spacingAndGlyphs">5:</text>
<text x="145.2" y="620.7" textLength="75.1" lengthAdjust="spacingAndGlyphs">Speed</text>
<text x="230.4" y="620.7" textLength="127.5" lengthAdjust="spacingAndGlyphs">advantage</text>
<text x="368.1" y="620.7" textLength="23.4" lengthAdjust="spacingAndGlyphs">of</text>
<text x="401.6" y="620.7" textLength="84.7" lengthAdjust="spacingAndGlyphs">Switch</text>
<text x="496.5" y="620.7" textLength="163.4" lengthAdjust="spacingAndGlyphs">Transformer.</text>
<text x="674.2" y="620.7" textLength="37.9" lengthAdjust="spacingAndGlyphs">All</text>
<text x="722.3" y="620.7" textLength="88.1" lengthAdjust="spacingAndGlyphs">models</text>
<text x="820.6" y="620.7" textLength="90.5" lengthAdjust="spacingAndGlyphs">trained</text>
<text x="921.2" y="620.7" textLength="30.7" lengthAdjust="spacingAndGlyphs">on</text>
<text x="962.0" y="620.7" textLength="29.0" lengthAdjust="spacingAndGlyphs">32</text>
<text x="1001.2" y="620.7" textLength="92.4" lengthAdjust="spacingAndGlyphs">TPUv3</text>
<text x="1103.7" y="620.7" textLength="63.2" lengthAdjust="spacingAndGlyphs">cores</text>
<text x="145.2" y="657.0" textLength="56.5" lengthAdjust="spacingAndGlyphs">with</text>
<text x="210.6" y="657.0" textLength="67.0" lengthAdjust="spacingAndGlyphs">equal</text>
<text x="286.4" y="657.0" textLength="91.0" lengthAdjust="spacingAndGlyphs">FLOPs</text>
<text x="386.2" y="657.0" textLength="41.2" lengthAdjust="spacingAndGlyphs">per</text>
<text x="436.3" y="657.0" textLength="112.2" lengthAdjust="spacingAndGlyphs">example.</text>
<text x="561.2" y="657.0" textLength="42.5" lengthAdjust="spacingAndGlyphs">For</text>
<text x="612.5" y="657.0" textLength="14.5" lengthAdjust="spacingAndGlyphs">a</text>
<text x="635.9" y="657.0" textLength="60.5" lengthAdjust="spacingAndGlyphs">fixed</text>
<text x="705.2" y="657.0" textLength="96.0" lengthAdjust="spacingAndGlyphs">amount</text>
<text x="810.2" y="657.0" textLength="23.4" lengthAdjust="spacingAndGlyphs">of</text>
<text x="842.4" y="657.0" textLength="159.8" lengthAdjust="spacingAndGlyphs">computation</text>
<text x="1011.1" y="657.0" textLength="46.8" lengthAdjust="spacingAndGlyphs">and</text>
<text x="1066.7" y="657.0" textLength="100.2" lengthAdjust="spacingAndGlyphs">training</text>
<text x="145.2" y="693.4" textLength="64.6" lengthAdjust="spacingAndGlyphs">time,</text>
<text x="220.1" y="693.4" textLength="84.8" lengthAdjust="spacingAndGlyphs">Switch</text>
<text x="315.0" y="693.4" textLength="166.8" lengthAdjust="spacingAndGlyphs">Transformers</text>
<text x="492.0" y="693.4" textLength="151.9" lengthAdjust="spacingAndGlyphs">significantly</text>
<text x="654.0" y="693.4" textLength="142.2" lengthAdjust="spacingAndGlyphs">outperform</text>
<text x="806.4" y="693.4" textLength="40.4" lengthAdjust="spacingAndGlyphs">the</text>
<text x="856.9" y="693.4" textLength="69.6" lengthAdjust="spacingAndGlyphs">dense</text>
<text x="936.6" y="693.4" textLength="155.4" lengthAdjust="spacingAndGlyphs">Transformer</text>
<text x="1102.2" y="693.4" textLength="64.7" lengthAdjust="spacingAndGlyphs">base-</text>
<text x="145.2" y="729.6" textLength="53.3" lengthAdjust="spacingAndGlyphs">line.</text>
<text x="211.9" y="729.6" textLength="50.1" lengthAdjust="spacingAndGlyphs">Our</text>
<text x="271.9" y="729.6" textLength="29.0" lengthAdjust="spacingAndGlyphs">64</text>
<text x="310.8" y="729.6" textLength="80.8" lengthAdjust="spacingAndGlyphs">expert</text>
<text x="401.4" y="729.6" textLength="153.9" lengthAdjust="spacingAndGlyphs">Switch-Base</text>
<text x="565.1" y="729.6" textLength="76.7" lengthAdjust="spacingAndGlyphs">model</text>
<text x="651.6" y="729.6" textLength="102.6" lengthAdjust="spacingAndGlyphs">achieves</text>
<text x="764.1" y="729.6" textLength="40.4" lengthAdjust="spacingAndGlyphs">the</text>
<text x="814.3" y="729.6" textLength="63.1" lengthAdjust="spacingAndGlyphs">same</text>
<text x="887.3" y="729.6" textLength="88.0" lengthAdjust="spacingAndGlyphs">quality</text>
<text x="985.1" y="729.6" textLength="24.2" lengthAdjust="spacingAndGlyphs">in</text>
<text class="it" x="1022.1" y="729.6" textLength="148.0" lengthAdjust="spacingAndGlyphs">one-seventh</text>
<text x="145.2" y="765.7" textLength="40.4" lengthAdjust="spacingAndGlyphs">the</text>
<text x="195.3" y="765.7" textLength="56.5" lengthAdjust="spacingAndGlyphs">time</text>
<text x="261.5" y="765.7" textLength="23.4" lengthAdjust="spacingAndGlyphs">of</text>
<text x="294.5" y="765.7" textLength="40.4" lengthAdjust="spacingAndGlyphs">the</text>
<text x="344.6" y="765.7" textLength="104.7" lengthAdjust="spacingAndGlyphs">T5-Base</text>
<text x="458.9" y="765.7" textLength="46.8" lengthAdjust="spacingAndGlyphs">and</text>
<text x="515.4" y="765.7" textLength="118.0" lengthAdjust="spacingAndGlyphs">continues</text>
<text x="643.1" y="765.7" textLength="25.8" lengthAdjust="spacingAndGlyphs">to</text>
<text x="678.6" y="765.7" textLength="109.0" lengthAdjust="spacingAndGlyphs">improve.</text>
</g>
</svg></body></html>
